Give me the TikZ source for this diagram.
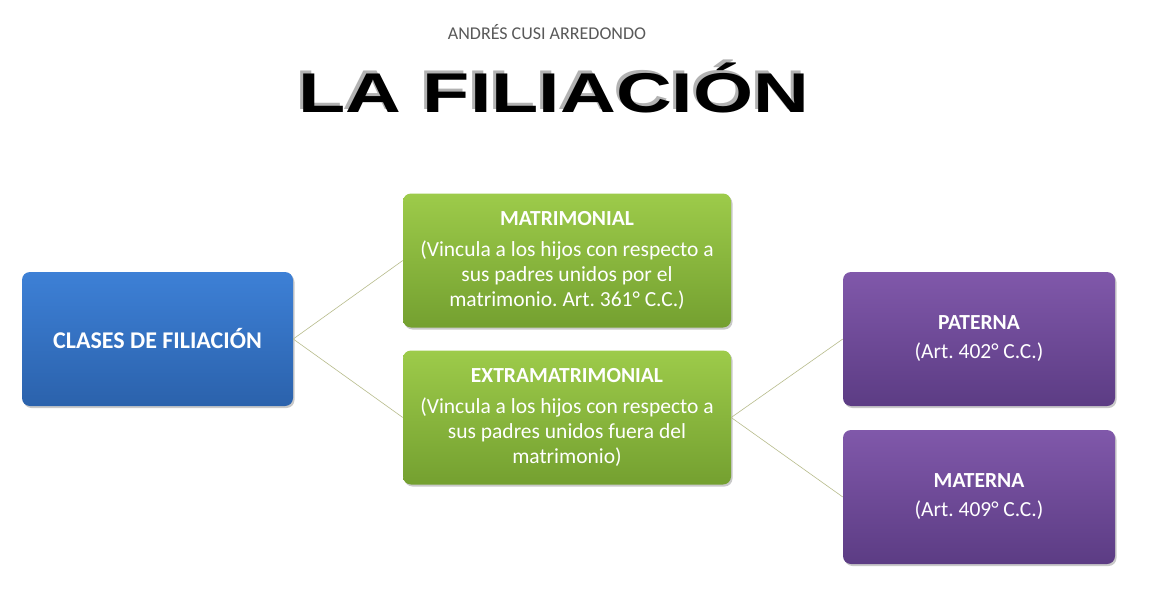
\documentclass[tikz,border=0pt]{standalone}
\usepackage{fontspec}
\setmainfont{Carlito}
\newfontfamily\titlefont{Liberation Sans}
\usetikzlibrary{shadows}
\definecolor{bluetop}{HTML}{3D80D6}
\definecolor{bluebot}{HTML}{2B62AC}
\definecolor{greentop}{HTML}{9DCB4A}
\definecolor{greenbot}{HTML}{74A030}
\definecolor{purptop}{HTML}{8058AA}
\definecolor{purpbot}{HTML}{5C3C84}
\definecolor{linec}{HTML}{B8BC8C}
\frenchspacing
\tikzset{
  box/.style={rounded corners=8pt, minimum height=134pt, text=white, align=center,
    font=\fontsize{21.5}{25}\selectfont, inner sep=4pt,
    drop shadow={shadow xshift=1.5pt, shadow yshift=-2pt, opacity=0.35, fill=black!60}},
  bluebox/.style={box, minimum width=271pt, top color=bluetop, bottom color=bluebot},
  greenbox/.style={box, minimum width=328pt, top color=greentop, bottom color=greenbot},
  purpbox/.style={box, minimum width=272pt, top color=purptop, bottom color=purpbot},
  conn/.style={draw=linec, line width=0.6pt}
}
\begin{document}
\begin{tikzpicture}[x=1pt,y=-1pt]
\useasboundingbox[fill=white] (0,0) rectangle (1162,610);
\node (author) at (547,32) {\fontsize{18}{20}\selectfont\color{black!65}ANDRÉS CUSI ARREDONDO};
\node[text=black!30, xscale=1.38] (titleshadow) at (551,85) {\titlefont\bfseries\fontsize{56}{64}\selectfont LA FILIACIÓN};
\node[text=black, xscale=1.38] (title) at (554,88) {\titlefont\bfseries\fontsize{56}{64}\selectfont LA FILIACIÓN};
\node[bluebox] (clases) at (157.5,339) {\fontsize{24}{28}\selectfont\textbf{CLASES DE FILIACIÓN}};
\node[greenbox] (mat) at (567,260.5) {\textbf{MATRIMONIAL}\\[6pt](Vincula a los hijos con respecto a\\ sus padres unidos por el\\ matrimonio. Art. 361° C.C.)};
\node[greenbox] (ext) at (567,417.5) {\textbf{EXTRAMATRIMONIAL}\\[6pt](Vincula a los hijos con respecto a\\ sus padres unidos fuera del\\ matrimonio)};
\node[purpbox] (pat) at (979,339) {\textbf{PATERNA}\\[4pt](Art. 402° C.C.)};
\node[purpbox] (matn) at (979,497) {\textbf{MATERNA}\\[4pt](Art. 409° C.C.)};
\draw[conn] (clases.east) -- (mat.west);
\draw[conn] (clases.east) -- (ext.west);
\draw[conn] (ext.east) -- (pat.west);
\draw[conn] (ext.east) -- (matn.west);
\end{tikzpicture}
\end{document}
